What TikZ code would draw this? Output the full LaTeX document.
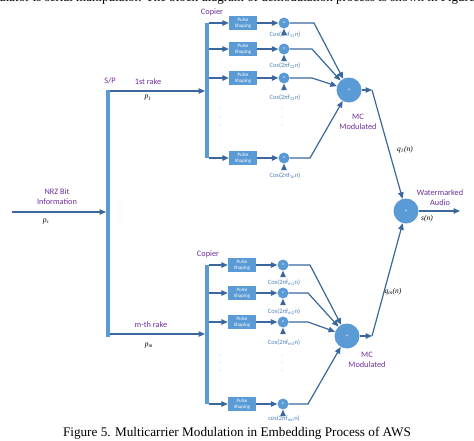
\documentclass[tikz,border=0pt]{standalone}
\usepackage{fontspec}
\setmainfont{Liberation Serif}
\newfontfamily\diagfont{Carlito}
\usetikzlibrary{arrows.meta}
\definecolor{ln}{RGB}{58,104,158}
\definecolor{bl}{RGB}{91,155,213}
\definecolor{pur}{RGB}{112,48,160}
\definecolor{cosc}{RGB}{79,129,189}
\tikzset{
  conn/.style={ln, line width=1.2pt, -{Triangle[width=5.5pt,length=6.5pt]}},
  wire/.style={ln, line width=1.2pt},
  barline/.style={bl, line width=4.5pt},
  pulse/.style={fill=bl, text=white, minimum width=28pt, minimum height=14pt, inner sep=0pt,
    font=\diagfont\fontsize{5}{5.5}\selectfont, align=center},
  mult/.style={circle, fill=bl, minimum size=11pt, inner sep=0pt, text=white,
    font=\diagfont\fontsize{4}{4}\selectfont},
  summ/.style={circle, fill=bl, minimum size=25pt, inner sep=0pt, text=white,
    font=\diagfont\fontsize{5}{5}\selectfont},
  lab/.style={text=pur, font=\diagfont\fontsize{8.3}{10}\selectfont, align=center},
  coslab/.style={text=cosc, font=\diagfont\fontsize{6.5}{7}\selectfont, inner sep=0pt},
  mathlab/.style={font=\fontsize{7.5}{8}\selectfont\itshape, inner sep=0pt},
  dotmark/.style={fill=gray!60, draw=none},
}
\begin{document}
\begin{tikzpicture}[x=1pt,y=-1pt]
\useasboundingbox (0,0) rectangle (474,440);
\fill[white] (0,0) rectangle (474,440);

% cut-off text line at the top and the caption
\node[font=\fontsize{13}{14}\selectfont, inner sep=0pt] (toptext) at (237,-2)
  {ulator is serial manipulator. The block diagram of demodulation process is shown in Figure};
\node[font=\fontsize{13.2}{15}\selectfont, inner sep=0pt] (caption) at (237,433.5)
  {Figure 5. Multicarrier Modulation in Embedding Process of AWS};

% S/P bar and input
\draw[barline] (108,90) -- (108,337);
\node[lab] (splab) at (110,81) {S/P};
\coordinate (nrzin) at (12,212);
\coordinate (spin) at (106,212);
\draw[conn] (nrzin) -- (spin);
\node[lab] (nrzlab) at (57,197) {NRZ Bit\\Information};
\node[mathlab] (pslab) at (46,222) {p\textsubscript{s}};
\foreach \yy in {202,210,218} \fill[dotmark] (120,\yy) circle (0.5pt);

% copier bars
\draw[barline] (207,23) -- (207,158);
\draw[barline] (207,265) -- (207,404);
\node[lab] (copA) at (212,12) {Copier};
\node[lab] (copB) at (208,254) {Copier};

% rakes
\coordinate (rkAs) at (110,91);
\coordinate (rkAe) at (205,91);
\draw[conn] (rkAs) -- (rkAe);
\node[lab] (rkAlab) at (148,82) {1st rake};
\node[mathlab] (p1lab) at (148,98) {p\textsubscript{1}};
\coordinate (rkBs) at (110,334);
\coordinate (rkBe) at (205,334);
\draw[conn] (rkBs) -- (rkBe);
\node[lab] (rkBlab) at (151,325) {m-th rake};
\node[mathlab] (pmlab) at (149,346) {p\textsubscript{m}};

% summing nodes
\node[summ] (sumA) at (349,90) {+};
\node[summ] (sumB) at (347,336) {+};
\node[summ] (fin) at (406,211) {+};
\node[lab] (mcA) at (358,122) {MC\\Modulated};
\node[lab] (mcB) at (367,360) {MC\\Modulated};
\node[lab] (wmlab) at (440,198) {Watermarked\\Audio};

% top group rows
\foreach \i/\yy/\xe/\sub/\cy in {1/23/314/{11}/35, 2/49/312/{12}/66, 3/78/312/{13}/98, 4/158/310/{1n}/176}{
  \coordinate (bA\i) at (209,\yy);
  \node[pulse] (psA\i) at (243,\yy) {Pulse\\Shaping};
  \node[mult] (mA\i) at (284,\yy) {x};
  \coordinate (cA\i) at (284,\yy+10);
  \node[coslab] (csA\i) at (285,\cy) {Cos(2πf\textsubscript{\sub}n)};
  \coordinate (kA\i) at (\xe,\yy);
  \draw[conn] (bA\i) -- (psA\i);
  \draw[conn] (psA\i) -- (mA\i);
  \draw[conn] (cA\i) -- (mA\i);
  \draw[conn] (mA\i) -- (kA\i) -- (sumA);
}
% bottom group rows
\foreach \i/\yy/\xe/\sub/\cy/\cw in {1/265/310/{m1}/283/Cos, 2/293/308/{m2}/312/Cos, 3/322/308/{m3}/343/Cos, 4/404/308/{mn}/419/cos}{
  \coordinate (bB\i) at (209,\yy);
  \node[pulse] (psB\i) at (242,\yy) {Pulse\\Shaping};
  \node[mult] (mB\i) at (283,\yy) {x};
  \coordinate (cB\i) at (283,\yy+10);
  \node[coslab] (csB\i) at (284,\cy) {\cw(2πf\textsubscript{\sub}n)};
  \coordinate (kB\i) at (\xe,\yy);
  \draw[conn] (bB\i) -- (psB\i);
  \draw[conn] (psB\i) -- (mB\i);
  \draw[conn] (cB\i) -- (mB\i);
  \draw[conn] (mB\i) -- (kB\i) -- (sumB);
}
% vertical dots
\foreach \yy in {108,117,125,355,362,370}{
  \fill[dotmark] (220,\yy) circle (0.5pt);
  \fill[dotmark] (282,\yy) circle (0.5pt);
}

% outputs
\coordinate (jA) at (372,90);
\coordinate (jB) at (372,336);
\coordinate (outend) at (460,211);
\draw[conn] (sumA) -- (jA);
\draw[conn] (jA) -- (fin);
\draw[conn] (sumB) -- (jB);
\draw[conn] (jB) -- (fin);
\draw[conn] (fin) -- (outend);
\node[mathlab] (q1lab) at (405,150) {q\textsubscript{1}(n)};
\node[mathlab] (qmlab) at (393,292) {q\textsubscript{m}(n)};
\node[mathlab] (snlab) at (427,219) {s(n)};
\end{tikzpicture}
\end{document}
